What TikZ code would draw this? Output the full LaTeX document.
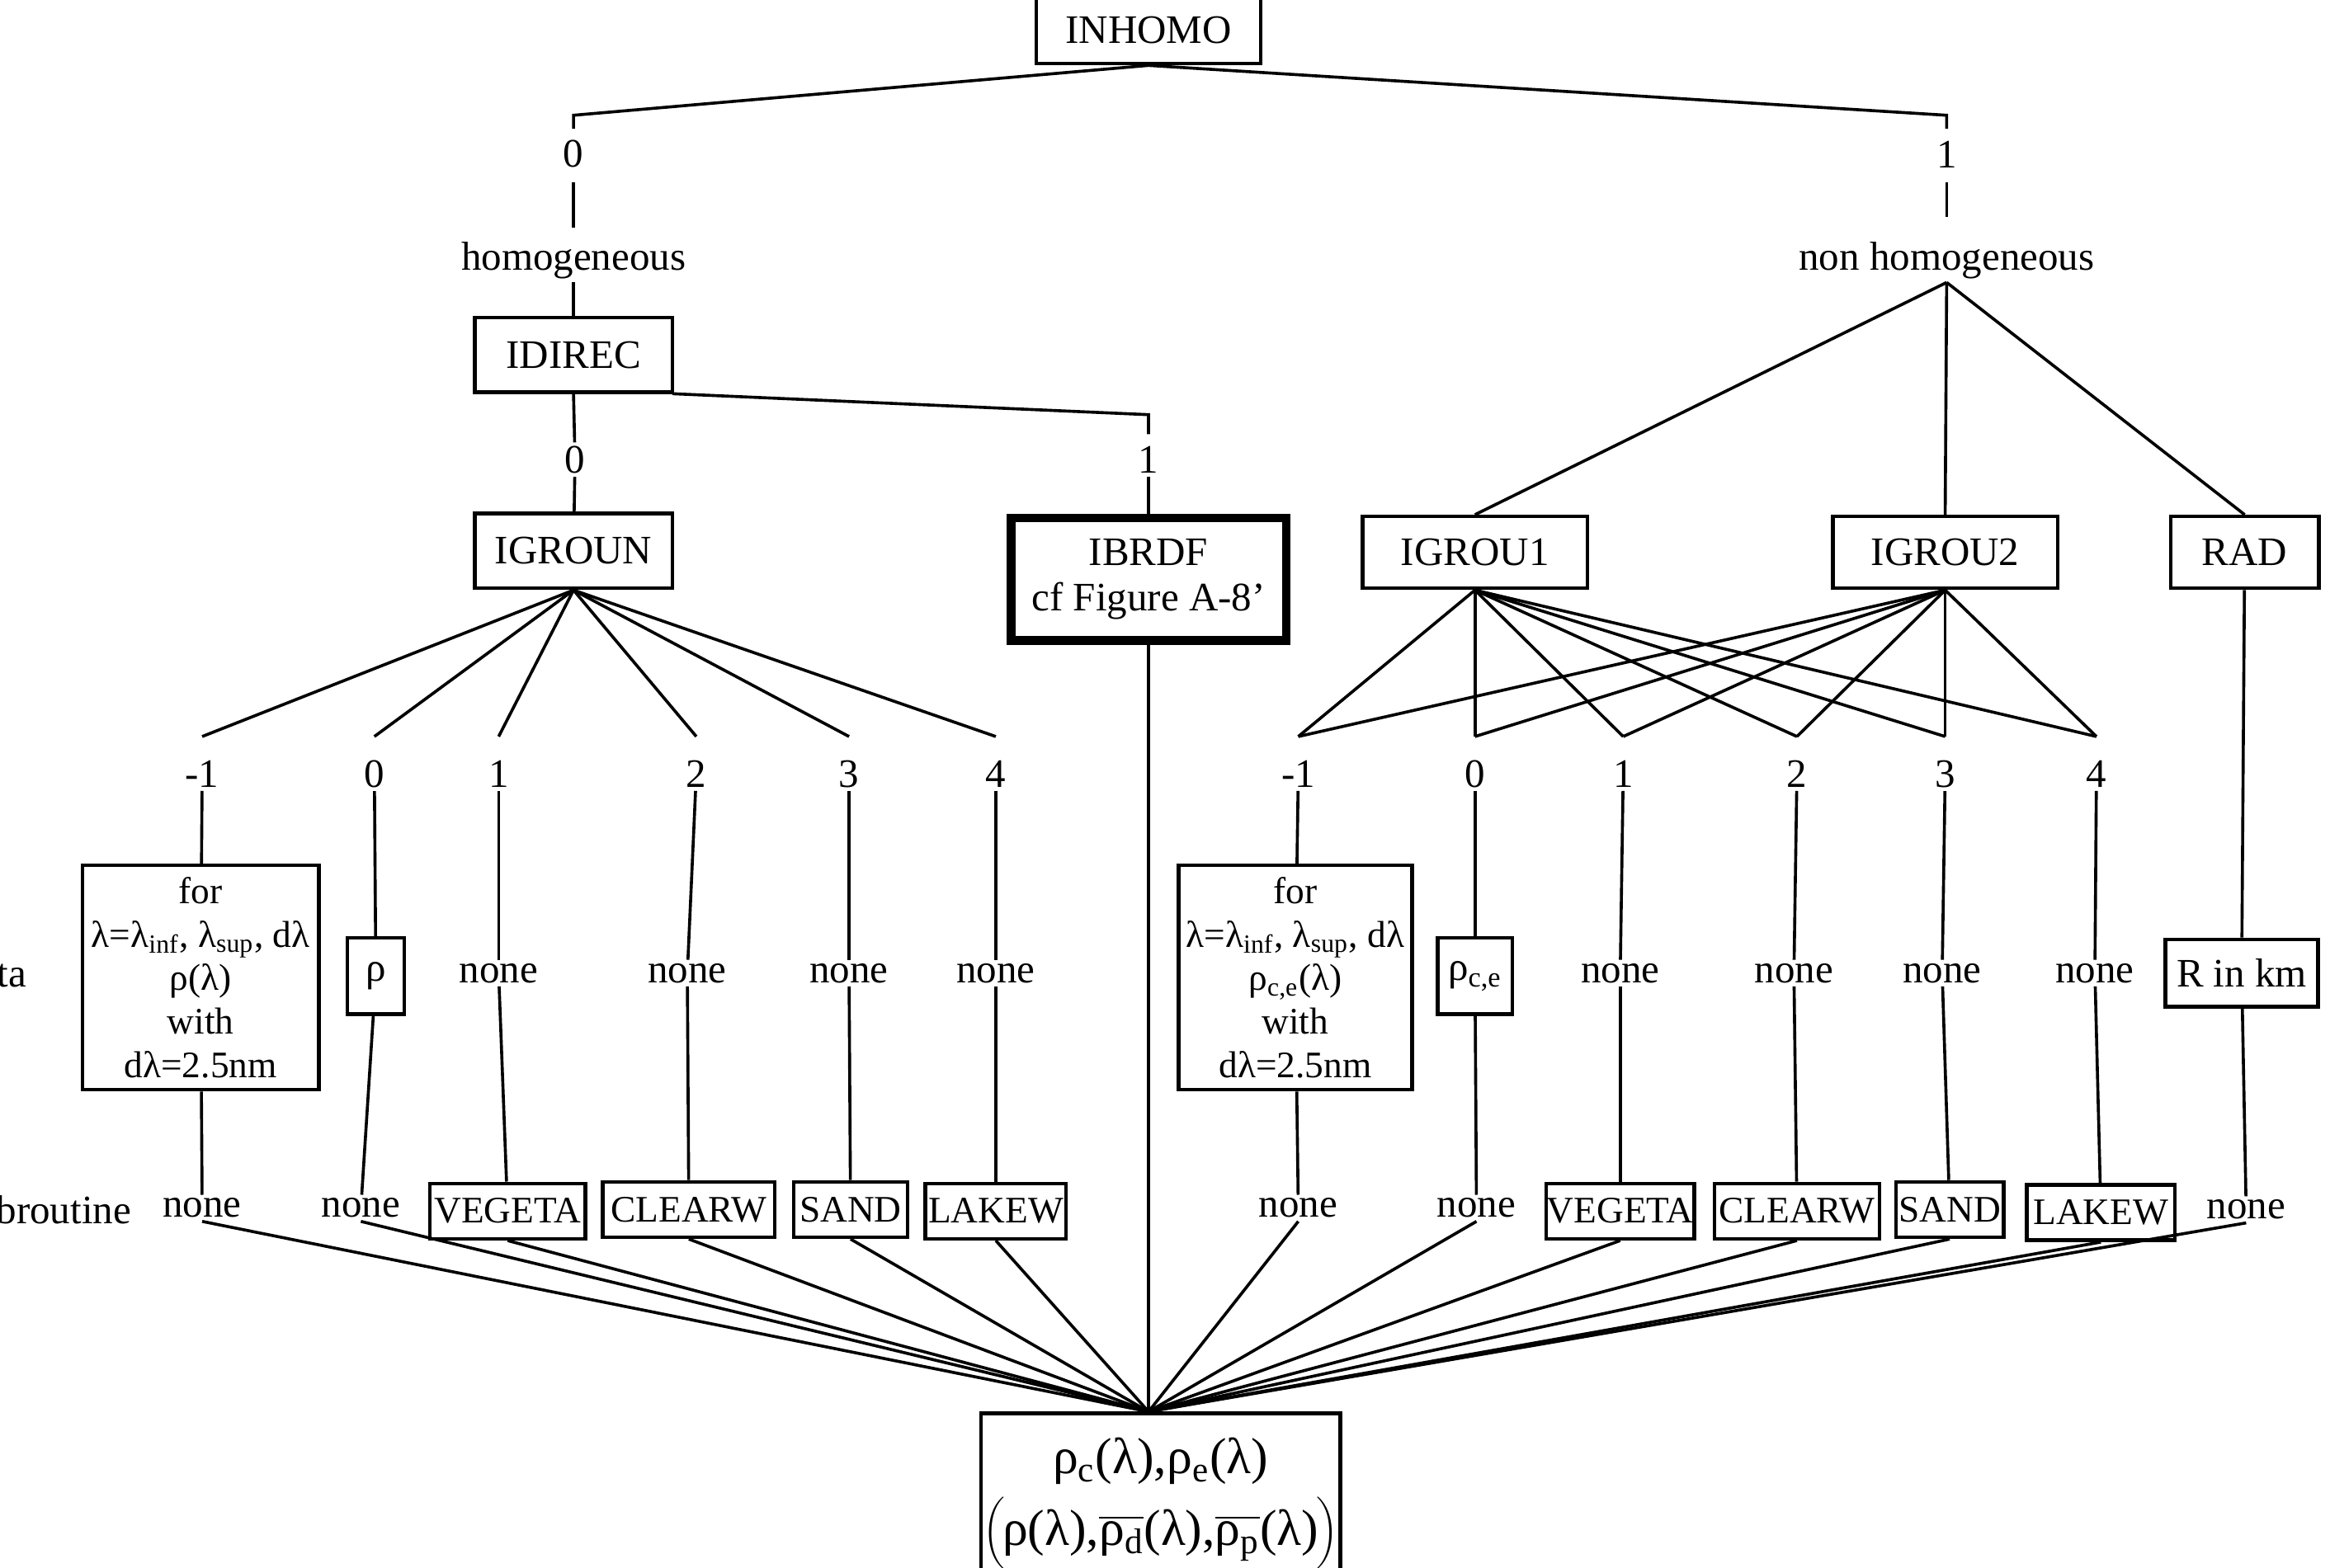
\documentclass[tikz,border=0pt]{standalone}
\usepackage{fontspec}
\setmainfont{Liberation Serif}
\begin{document}
\begin{tikzpicture}[x=0.5pt,y=-0.5pt,
  every node/.style={font=\fontsize{13.5}{15}\selectfont, inner sep=1pt},
  bx/.style={draw, line width=1.2pt, inner sep=0pt, align=center},
  lbl/.style={inner sep=1pt},
  ln/.style={line width=1pt}]
\useasboundingbox (0,0) rectangle (1556,1047.4);
% top
\node[bx, minimum width=150*0.5pt, minimum height=45*0.5pt] (inhomo) at (767,20) {INHOMO};
\coordinate (tl) at (383,77); \coordinate (tlb) at (383,86);
\coordinate (tr) at (1300,77); \coordinate (trb) at (1300,86);
\draw[ln] (inhomo.south) -- (tl) -- (tlb);
\draw[ln] (inhomo.south) -- (tr) -- (trb);
\node (z0) at (383,103) {0};
\node (z1) at (1300,103) {1};
\node (homo) at (383,174) {homogeneous};
\node (nhomo) at (1300,174) {non homogeneous};
\draw[ln] (383,122) -- (383,152);
\draw[ln] (1300,122) -- (1300,145);
\node[bx, minimum width=132*0.5pt, minimum height=50*0.5pt] (idirec) at (383,237) {IDIREC};
\draw[ln] (homo) -- (idirec);
\coordinate (ir) at (767,277); \coordinate (irb) at (767,290);
\draw[ln] (449,263) -- (ir) -- (irb);
\node (d0) at (384,307) {0};
\node (d1) at (767,307) {1};
\draw[ln] (idirec.south) -- (d0);
\node[bx, minimum width=132*0.5pt, minimum height=50*0.5pt] (igroun) at (383,368) {IGROUN};
\draw[ln] (d0) -- (igroun);
\node[draw, line width=3pt, align=center, minimum width=184*0.5pt, minimum height=82*0.5pt, inner sep=0pt] (ibrdf) at (767,387) {IBRDF\\cf Figure A-8'};
\draw[ln] (d1) -- (ibrdf);
% right upper
\node[bx, minimum width=150*0.5pt, minimum height=48*0.5pt] (ig1) at (985,369) {IGROU1};
\node[bx, minimum width=150*0.5pt, minimum height=48*0.5pt] (ig2) at (1299,369) {IGROU2};
\node[bx, minimum width=99*0.5pt, minimum height=48*0.5pt] (rad) at (1499,369) {RAD};
\foreach \t in {ig1,ig2,rad} \draw[ln] (nhomo.south) -- (\t.north);
% left values
\foreach \n/\x/\v in {lm/135/-1, l0/250/0, l1/333/1, l2/465/2, l3/567/3, l4/665/4}{
  \node[lbl] (\n) at (\x,517) {\v};
  \coordinate (\n t) at (\x,492);
  \draw[ln] (igroun.south) -- (\n t);
}
\foreach \n/\x/\v in {rm/867/-1, r0/985/0, r1/1084/1, r2/1200/2, r3/1299/3, r4/1400/4}{
  \node[lbl] (\n) at (\x,517) {\v};
  \coordinate (\n t) at (\x,492);
  \draw[ln] (ig1.south) -- (\n t);
  \draw[ln] (ig2.south) -- (\n t);
}
% data row left
\node[bx, minimum width=158*0.5pt, minimum height=150*0.5pt, font=\fontsize{12.5}{14.5}\selectfont] (dlm) at (134,653)
 {for\\λ=λ\textsubscript{inf}, λ\textsubscript{sup}, dλ\\ρ(λ)\\with\\dλ=2.5nm};
\node[bx, minimum width=38*0.5pt, minimum height=51*0.5pt] (dl0) at (251,652) {ρ};
\node (dl1) at (333,650) {none};
\node (dl2) at (459,650) {none};
\node (dl3) at (567,650) {none};
\node (dl4) at (665,650) {none};
\node[anchor=east] at (20,650) {data};
% data row right
\node[bx, minimum width=156*0.5pt, minimum height=150*0.5pt, font=\fontsize{12.5}{14.5}\selectfont] (drm) at (865,653)
 {for\\λ=λ\textsubscript{inf}, λ\textsubscript{sup}, dλ\\ρ\textsubscript{c,e}(λ)\\with\\dλ=2.5nm};
\node[bx, minimum width=50*0.5pt, minimum height=51*0.5pt] (dr0) at (985,652) {ρ\textsubscript{c,e}};
\node (dr1) at (1082,650) {none};
\node (dr2) at (1198,650) {none};
\node (dr3) at (1297,650) {none};
\node (dr4) at (1399,650) {none};
\node[bx, minimum width=102*0.5pt, minimum height=45*0.5pt] (drad) at (1497,650) {R in km};
% subroutine row
\node[anchor=east] at (90,808) {Subroutine};
\node (slm) at (135,807) {none};
\node (sl0) at (241,807) {none};
\node[bx, minimum width=104*0.5pt, minimum height=37*0.5pt, font=\fontsize{12.5}{14}\selectfont] (sl1) at (339,809) {VEGETA};
\node[bx, minimum width=115*0.5pt, minimum height=37*0.5pt, font=\fontsize{12.5}{14}\selectfont] (sl2) at (460,808) {CLEARW};
\node[bx, minimum width=76*0.5pt, minimum height=37*0.5pt, font=\fontsize{12.5}{14}\selectfont] (sl3) at (568,808) {SAND};
\node[bx, minimum width=94*0.5pt, minimum height=37*0.5pt, font=\fontsize{12.5}{14}\selectfont] (sl4) at (665,809) {LAKEW};
\node (srm) at (867,807) {none};
\node (sr0) at (986,807) {none};
\node[bx, minimum width=99*0.5pt, minimum height=37*0.5pt, font=\fontsize{12.5}{14}\selectfont] (sr1) at (1082,809) {VEGETA};
\node[bx, minimum width=110*0.5pt, minimum height=37*0.5pt, font=\fontsize{12.5}{14}\selectfont] (sr2) at (1200,809) {CLEARW};
\node[bx, minimum width=72*0.5pt, minimum height=37*0.5pt, font=\fontsize{12.5}{14}\selectfont] (sr3) at (1302,808) {SAND};
\node[bx, minimum width=99*0.5pt, minimum height=37*0.5pt, font=\fontsize{12.5}{14}\selectfont] (sr4) at (1403,810) {LAKEW};
\node (srad) at (1500,808) {none};
% verticals
\foreach \a/\b/\c in {lm/dlm/slm, l0/dl0/sl0, l1/dl1/sl1, l2/dl2/sl2, l3/dl3/sl3, l4/dl4/sl4, rm/drm/srm, r0/dr0/sr0, r1/dr1/sr1, r2/dr2/sr2, r3/dr3/sr3, r4/dr4/sr4}{
  \draw[ln] (\a) -- (\b); \draw[ln] (\b) -- (\c);
}
\draw[ln] (rad) -- (drad); \draw[ln] (drad) -- (srad);
% bottom box
\node[bx, minimum width=240*0.5pt, minimum height=120*0.5pt, anchor=north, font=\fontsize{17}{22}\selectfont] (res) at (775,943)
 {ρ\textsubscript{c}(λ),ρ\textsubscript{e}(λ)\\[2pt]
  $\left(\vphantom{\rule{0pt}{16pt}}\right.$\kern-2pt ρ(λ),$\overline{\mbox{ρ\textsubscript{d}}}$(λ),$\overline{\mbox{ρ\textsubscript{p}}}$(λ)\kern-2pt$\left.\vphantom{\rule{0pt}{16pt}}\right)$};
\coordinate (apex) at (767,943);
\draw[ln] (ibrdf) -- (apex);
\foreach \s in {slm,sl0,sl1,sl2,sl3,sl4,srm,sr0,sr1,sr2,sr3,sr4,srad}
  \draw[ln] (\s.south) -- (apex);
\end{tikzpicture}
\end{document}
